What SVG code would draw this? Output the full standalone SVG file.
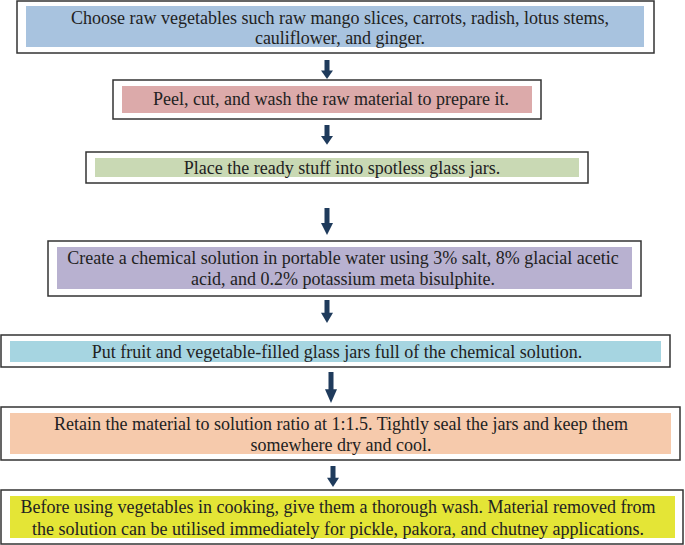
<svg xmlns="http://www.w3.org/2000/svg" width="685" height="545" viewBox="0 0 685 545">
<defs><style>
.o{fill:#fff;stroke:#333;stroke-width:1.5}
text{font-family:"Liberation Serif",serif;font-size:18px;fill:#222;text-anchor:middle}
.a{fill:#1f3b5c}
</style>
<g id="arr"><rect class="a" x="-2.5" y="0" width="5" height="11"/><polygon class="a" points="-6,10 6,10 0,18"/></g>
</defs>
<rect width="685" height="545" fill="#fff"/>
<g id="connectors">
<use href="#arr" transform="translate(327,60) scale(1,1.05)"/>
<use href="#arr" transform="translate(327,125) scale(1,1.1)"/>
<use href="#arr" transform="translate(327,208) scale(1,1.5)"/>
<use href="#arr" transform="translate(327,300) scale(1,1.28)"/>
<use href="#arr" transform="translate(331,372) scale(1,1.72)"/>
<use href="#arr" transform="translate(333,466) scale(1,1.17)"/>
</g>
<g id="n1"><rect class="o" x="17" y="1" width="637" height="52"/><rect x="26" y="6" width="618" height="41" fill="#a8c3df"/>
<text x="340" y="24">Choose raw vegetables such raw mango slices, carrots, radish, lotus stems,</text><text x="340" y="44">cauliflower, and ginger.</text></g>
<g id="n2"><rect class="o" x="113" y="80" width="428" height="39"/><rect x="122" y="86" width="410" height="27" fill="#dcaaaa"/>
<text x="331" y="105">Peel, cut, and wash the raw material to prepare it.</text></g>
<g id="n3"><rect class="o" x="86" y="152" width="502" height="31"/><rect x="95" y="158" width="484" height="19" fill="#c9d9b4"/>
<text x="342" y="174">Place the ready stuff into spotless glass jars.</text></g>
<g id="n4"><rect class="o" x="48" y="241" width="593" height="55"/><rect x="57" y="247" width="575" height="42" fill="#b8b1d0"/>
<text x="343" y="264">Create a chemical solution in portable water using 3% salt, 8% glacial acetic</text><text x="343" y="285">acid, and 0.2% potassium meta bisulphite.</text></g>
<g id="n5"><rect class="o" x="1" y="335" width="669" height="32"/><rect x="10" y="341" width="651" height="21" fill="#a6d5e1"/>
<text x="337" y="358">Put fruit and vegetable-filled glass jars full of the chemical solution.</text></g>
<g id="n6"><rect class="o" x="1" y="407" width="679" height="53"/><rect x="10" y="413" width="661" height="41" fill="#f6caac"/>
<text x="341" y="430">Retain the material to solution ratio at 1:1.5. Tightly seal the jars and keep them</text><text x="341" y="451">somewhere dry and cool.</text></g>
<g id="n7"><rect class="o" x="1" y="490" width="682" height="54"/><rect x="10" y="496" width="665" height="42" fill="#e4e536"/>
<text x="338" y="513">Before using vegetables in cooking, give them a thorough wash. Material removed from</text><text x="338" y="535">the solution can be utilised immediately for pickle, pakora, and chutney applications.</text></g>
</svg>
